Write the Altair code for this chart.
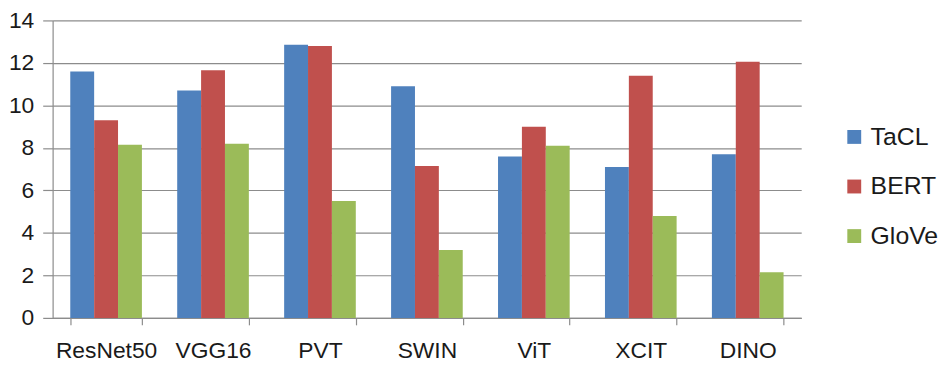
import altair as alt
import pandas as pd

models = ["ResNet50", "VGG16", "PVT", "SWIN", "ViT", "XCIT", "DINO"]
series = ["TaCL", "BERT", "GloVe"]
tacl = [11.6, 10.7, 12.85, 10.9, 7.6, 7.1, 7.7]
bert = [9.3, 11.65, 12.8, 7.15, 9.0, 11.4, 12.05]
glove = [8.15, 8.2, 5.5, 3.2, 8.1, 4.8, 2.15]
colors = ["#4F81BD", "#C0504D", "#9BBB59"]
y_ticks = [0, 2, 4, 6, 8, 10, 12, 14]

rows = []
for name, vals in zip(series, [tacl, bert, glove]):
    for m, v in zip(models, vals):
        rows.append({"model": m, "series": name, "value": v})
df = pd.DataFrame(rows)

FONT = "Liberation Sans"
GRID = "#8c8c8c"

chart = alt.Chart(df).mark_bar().encode(
    x=alt.X(
        "model:N",
        sort=models,
        scale=alt.Scale(paddingInner=0.33, paddingOuter=0.165),
        axis=alt.Axis(
            title=None, labelAngle=0, tickBand="extent", labelFontSize=23,
            labelFont=FONT, labelColor="#1a1a1a", tickSize=7, labelPadding=15,
            domainColor=GRID, tickColor=GRID, domainWidth=1.2, tickWidth=1.2,
        ),
    ),
    xOffset=alt.XOffset("series:N", sort=series,
                        scale=alt.Scale(paddingInner=0, paddingOuter=0)),
    y=alt.Y(
        "value:Q",
        scale=alt.Scale(domain=[0, 14], nice=False),
        axis=alt.Axis(
            title=None, values=y_ticks, labelFontSize=23, labelFont=FONT,
            labelColor="#1a1a1a", tickSize=10, labelPadding=9,
            domainColor=GRID, tickColor=GRID, gridColor=GRID, grid=True,
            gridWidth=1.2, domainWidth=1.2, tickWidth=1.2,
        ),
    ),
    color=alt.Color(
        "series:N",
        sort=series,
        scale=alt.Scale(domain=series, range=colors),
        legend=alt.Legend(
            title=None, orient="none", legendX=796, legendY=105,
            symbolType="square", symbolSize=196, symbolStrokeWidth=0,
            symbolOpacity=1, labelFontSize=25, labelFont=FONT,
            labelColor="#1a1a1a", labelOffset=4, rowPadding=24, padding=0,
        ),
    ),
).properties(
    width=755,
    height=300,
    padding={"left": 45, "top": 11, "right": 142, "bottom": 48},
    autosize=alt.AutoSizeParams(type="none"),
).configure_view(stroke=None)

chart.save("out.html", embed_options={"renderer": "svg", "actions": False})
